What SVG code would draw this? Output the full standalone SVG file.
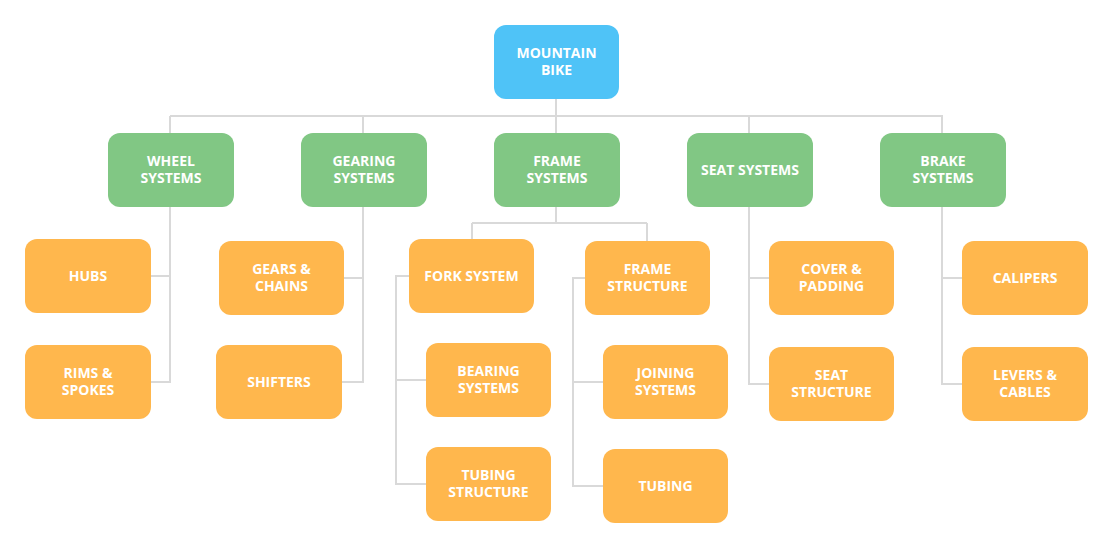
<svg xmlns="http://www.w3.org/2000/svg" width="1117" height="549" viewBox="0 0 1117 549">
<style>
.c{fill:none;stroke:#d9d9d9;stroke-width:2}
.r{fill:#4fc3f7}
.g{fill:#81c784}
.o{fill:#ffb74d}
text{font-family:"Open Sans","Liberation Sans",sans-serif;font-weight:bold;font-size:14px;fill:#ffffff;text-anchor:middle}
</style>
<rect width="1117" height="549" fill="#ffffff"/>
<g id="connectors" class="c">
<path d="M556,99 V116 M170,116 H943 M170,116 V133 M363,116 V133 M556,116 V133 M749,116 V133 M942,116 V133"/>
<path d="M170,207 V382 H151 M170,276 H151"/>
<path d="M363,207 V382 H342 M363,278 H344"/>
<path d="M556,207 V223 M472,223 H647 M472,223 V239 M647,223 V241"/>
<path d="M409,276 H396 V484 H426 M396,380 H426"/>
<path d="M585,278 H573 V486 H603 M573,382 H603"/>
<path d="M749,207 V384 H769 M749,278 H769"/>
<path d="M942,207 V384 H962 M942,278 H962"/>
</g>
<g id="mountain-bike"><rect class="r" x="494" y="25" width="125" height="74" rx="12"/><text x="556.5" y="57.5">MOUNTAIN</text><text x="556.5" y="74.5">BIKE</text></g>
<g id="wheel-systems"><rect class="g" x="108" y="133" width="126" height="74" rx="12"/><text x="171" y="165.5">WHEEL</text><text x="171" y="182.5">SYSTEMS</text></g>
<g id="gearing-systems"><rect class="g" x="301" y="133" width="126" height="74" rx="12"/><text x="364" y="165.5">GEARING</text><text x="364" y="182.5">SYSTEMS</text></g>
<g id="frame-systems"><rect class="g" x="494" y="133" width="126" height="74" rx="12"/><text x="557" y="165.5">FRAME</text><text x="557" y="182.5">SYSTEMS</text></g>
<g id="seat-systems"><rect class="g" x="687" y="133" width="126" height="74" rx="12"/><text x="750" y="174.5">SEAT SYSTEMS</text></g>
<g id="brake-systems"><rect class="g" x="880" y="133" width="126" height="74" rx="12"/><text x="943" y="165.5">BRAKE</text><text x="943" y="182.5">SYSTEMS</text></g>
<g id="hubs"><rect class="o" x="25" y="239" width="126" height="74" rx="12"/><text x="88" y="280.5">HUBS</text></g>
<g id="rims-spokes"><rect class="o" x="25" y="345" width="126" height="74" rx="12"/><text x="88" y="377.5">RIMS &amp;</text><text x="88" y="394.5">SPOKES</text></g>
<g id="gears-chains"><rect class="o" x="219" y="241" width="125" height="74" rx="12"/><text x="281.5" y="273.5">GEARS &amp;</text><text x="281.5" y="290.5">CHAINS</text></g>
<g id="shifters"><rect class="o" x="216" y="345" width="126" height="74" rx="12"/><text x="279" y="386.5">SHIFTERS</text></g>
<g id="fork-system"><rect class="o" x="409" y="239" width="125" height="74" rx="12"/><text x="471.5" y="280.5">FORK SYSTEM</text></g>
<g id="frame-structure"><rect class="o" x="585" y="241" width="125" height="74" rx="12"/><text x="647.5" y="273.5">FRAME</text><text x="647.5" y="290.5">STRUCTURE</text></g>
<g id="bearing-systems"><rect class="o" x="426" y="343" width="125" height="74" rx="12"/><text x="488.5" y="375.5">BEARING</text><text x="488.5" y="392.5">SYSTEMS</text></g>
<g id="tubing-structure"><rect class="o" x="426" y="447" width="125" height="74" rx="12"/><text x="488.5" y="479.5">TUBING</text><text x="488.5" y="496.5">STRUCTURE</text></g>
<g id="joining-systems"><rect class="o" x="603" y="345" width="125" height="74" rx="12"/><text x="665.5" y="377.5">JOINING</text><text x="665.5" y="394.5">SYSTEMS</text></g>
<g id="tubing"><rect class="o" x="603" y="449" width="125" height="74" rx="12"/><text x="665.5" y="490.5">TUBING</text></g>
<g id="cover-padding"><rect class="o" x="769" y="241" width="125" height="74" rx="12"/><text x="831.5" y="273.5">COVER &amp;</text><text x="831.5" y="290.5">PADDING</text></g>
<g id="seat-structure"><rect class="o" x="769" y="347" width="125" height="74" rx="12"/><text x="831.5" y="379.5">SEAT</text><text x="831.5" y="396.5">STRUCTURE</text></g>
<g id="calipers"><rect class="o" x="962" y="241" width="126" height="74" rx="12"/><text x="1025" y="282.5">CALIPERS</text></g>
<g id="levers-cables"><rect class="o" x="962" y="347" width="126" height="74" rx="12"/><text x="1025" y="379.5">LEVERS &amp;</text><text x="1025" y="396.5">CABLES</text></g>
</svg>
